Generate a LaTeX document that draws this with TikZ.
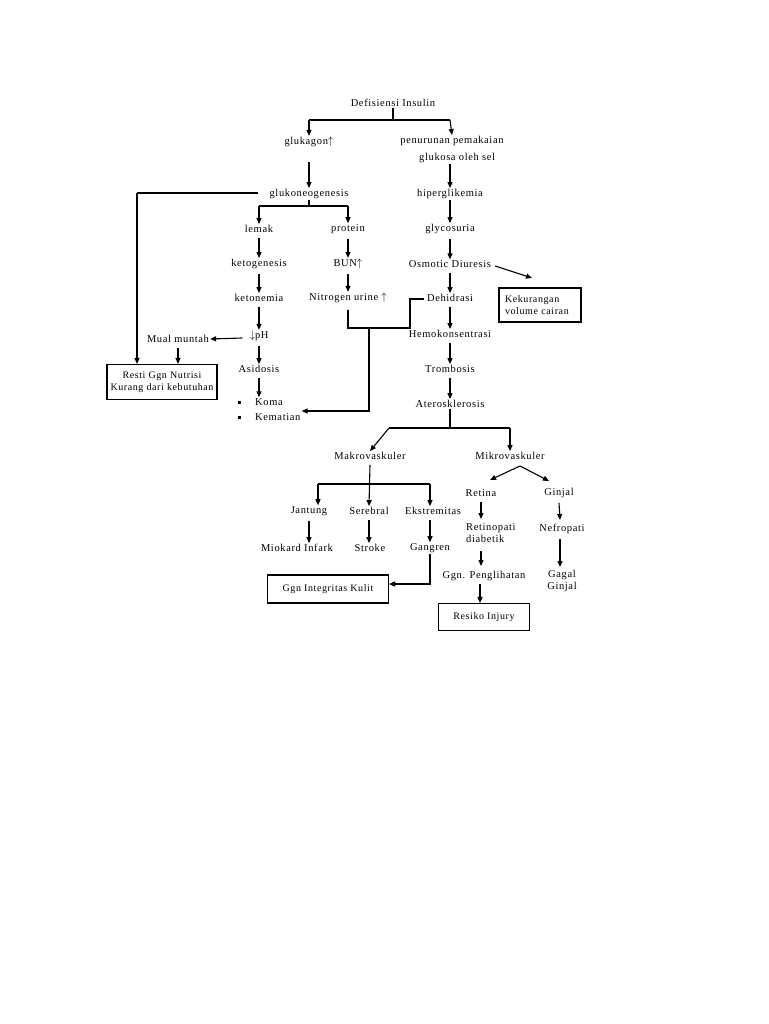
\documentclass[tikz,border=0pt]{standalone}
\usepackage{fontspec}
\setmainfont{Liberation Serif}[LetterSpace=6]
\usetikzlibrary{arrows.meta}
\begin{document}
\begin{tikzpicture}[x=1pt,y=-1pt,
  t/.style={inner sep=1pt,font=\fontsize{10.5}{12}\selectfont},
  a/.style={-{Triangle[length=6pt,width=5pt]},line width=1.1pt},
  l/.style={line width=1.1pt},
  b/.style={draw,line width=1.1pt,minimum width=#1,inner sep=2pt,font=\fontsize{10}{12}\selectfont}]
\useasboundingbox (0,0) rectangle (768,1024);
\fill[white] (92,88) rectangle (606,632);
\node[t] (def) at (393,103) {Defisiensi Insulin};
\node[t] (glu) at (309,142) {glukagon$\uparrow$};
\node[t] (pen) at (452,141) {penurunan pemakaian};
\node[t,anchor=west] (gos) at (418,158) {glukosa oleh sel};
\node[t] (gng) at (309,194) {glukoneogenesis};
\node[t] (hip) at (450,194) {hiperglikemia};
\node[t] (lem) at (259,229) {lemak};
\node[t] (pro) at (348,229) {protein};
\node[t] (gly) at (450,229) {glycosuria};
\node[t] (ket) at (259,264) {ketogenesis};
\node[t] (bun) at (348,264) {BUN$\uparrow$};
\node[t] (osm) at (450,264) {Osmotic Diuresis};
\node[b=82pt,minimum height=34pt,align=left,text width=70pt] (kek) at (540,305) {Kekurangan\\volume cairan};
\node[t] (ktm) at (259,298) {ketonemia};
\node[t] (nit) at (348,298) {Nitrogen urine $\uparrow$};
\node[t] (deh) at (450,298) {Dehidrasi};
\node[t] (ph) at (259,336) {$\downarrow$pH};
\node[t] (mual) at (178,339) {Mual muntah};
\node[b=110pt,minimum height=35pt,align=center] (res) at (162,382) {Resti Ggn Nutrisi\\Kurang dari kebutuhan};
\node[t] (hem) at (450,334) {Hemokonsentrasi};
\node[t] (asi) at (259,369) {Asidosis};
\node[t] (tro) at (450,369) {Trombosis};
\node[t,anchor=west] (kom) at (254,402) {Koma};
\node[t,anchor=west] (kem) at (254,417) {Kematian};
\fill (237.5,400.5) rectangle ++(3,3);
\fill (237.5,415.5) rectangle ++(3,3);
\node[t] (ate) at (450,404) {Aterosklerosis};
\node[t] (mak) at (370,456) {Makrovaskuler};
\node[t] (mik) at (510,456) {Mikrovaskuler};
\node[t] (jan) at (309,511) {Jantung};
\node[t] (ser) at (369,511) {Serebral};
\node[t] (eks) at (433,511) {Ekstremitas};
\node[t] (mio) at (297,548) {Miokard Infark};
\node[t] (str) at (370,548) {Stroke};
\node[t] (gan) at (430,548) {Gangren};
\node[b=121pt,minimum height=28pt] (ggn) at (328,589) {Ggn Integritas Kulit};
\node[t] (ret) at (481,493) {Retina};
\node[t] (gin) at (559,493) {Ginjal};
\node[t,align=left,anchor=north west] (rtp) at (465,522) {Retinopati\\diabetik};
\node[t] (nef) at (562,529) {Nefropati};
\node[t] (pgl) at (484,576) {Ggn. Penglihatan};
\node[t,align=center] (gag) at (562,581) {Gagal\\Ginjal};
\node[b=91pt,minimum height=27pt] (rsk) at (484,617) {Resiko Injury};
% connectors
\draw[l] (def.south) -- (393,120) coordinate (c1);
\draw[a] (309,120) coordinate (c2) -- (309,133) -- (glu.north);
\draw[l] (c2) -- (450,120) coordinate (c3);
\draw[a] (c3) -- (pen.north);
\draw[a] (309,162) -- (gng.north);
\draw[a] (450,164) -- (hip.north);
\draw[l] (gng.west) ++(-10,-1) coordinate (c4) -- (137,193) coordinate (c5);
\draw[a] (c5) -- (res.north -| c5);
\draw[l] (gng.south) -- (309,206);
\draw[l] (259,206) coordinate (c6) -- (348,206) coordinate (c7);
\draw[a] (c6) -- (lem.north);
\draw[a] (c7) -- (pro.north);
\draw[a] (hip.south) -- (gly.north);
\draw[a] (lem.south) ++(0,4) -- (ket.north);
\draw[a] (pro.south) ++(0,4) -- (bun.north);
\draw[a] (gly.south) ++(0,4) -- (osm.north);
\draw[a] (osm.east) ++(3,2) -- (532,278);
\draw[a] (ket.south) ++(0,4) -- (ktm.north);
\draw[a] (bun.south) ++(0,4) -- (nit.north);
\draw[a] (osm.south) ++(0,4) -- (deh.north);
\draw[a] (ktm.south) ++(0,4) -- (ph.north);
\draw[a] (ph.west) ++(-6,2) -- (mual.east);
\draw[a] (mual.south) ++(0,4) -- (res.north -| mual);
\draw[a] (ph.south) ++(0,4) -- (asi.north);
\draw[a] (asi.south) ++(0,4) -- (asi.south |- kom.north);
\draw[a] (deh.south) ++(0,4) -- (hem.north);
\draw[a] (hem.south) ++(0,4) -- (tro.north);
\draw[a] (tro.south) ++(0,4) -- (ate.north);
\draw[l] (348,310) -- (348,328) -- (410,328) -- (410,299) -- (424,299);
\draw[a] (369,328) -- (369,411) -- (kem.east |- 0,411);
\draw[l] (ate.south) -- (450,428);
\draw[l] (389,428) coordinate (c8) -- (510,428) coordinate (c9);
\draw[a] (c8) -- (mak.north);
\draw[a] (c9) -- (mik.north);
\draw[a] (mak.south) ++(0,4) -- (ser.north);
\draw[l] (318,484) coordinate (c10) -- (430,484) coordinate (c11);
\draw[a] (c10) -- (c10 |- jan.north);
\draw[a] (c11) -- (c11 |- eks.north);
\coordinate (c12) at (520,466);
\draw[a] (c12) -- (490,480);
\draw[a] (c12) -- (549,481);
\draw[a] (jan.south) ++(0,4) -- (jan.south |- mio.north);
\draw[a] (ser.south) ++(0,4) -- (ser.south |- str.north);
\draw[a] (eks.south) ++(-3,4) -- (gan.north);
\draw[a] (gan.south) -- (430,584) -- (ggn.east |- 0,584);
\draw[a] (481,502) -- (481,519);
\draw[a] (gin.south) ++(0,4) -- (560,520);
\draw[a] (481,551) -- (481,566);
\draw[a] (nef.south) ++(-2,4) -- (560,567);
\draw[a] (pgl.south) ++(-4,2) -- (rsk.north -| 480,0);
\end{tikzpicture}
\end{document}
